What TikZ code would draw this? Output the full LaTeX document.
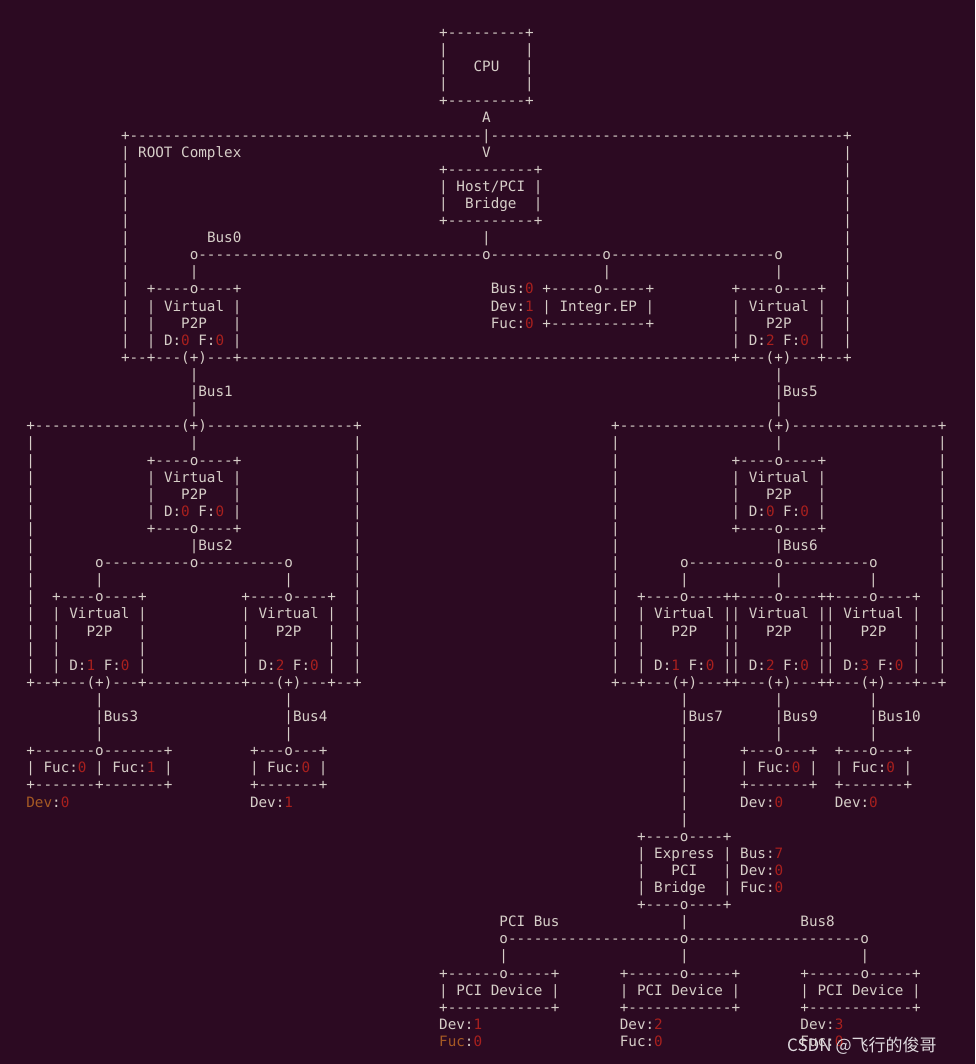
\documentclass[tikz,border=0pt]{standalone}
\usepackage{fontspec}
\setmonofont{DejaVu Sans Mono}[Ligatures=TeXOff]
\newfontfamily\cjkf{Noto Sans CJK SC}
\definecolor{bg}{HTML}{2C0A22}
\definecolor{fg}{HTML}{D6CEC8}
\definecolor{rd}{HTML}{A8201E}
\definecolor{og}{HTML}{A65A24}
\ExplSyntaxOn
\cs_new:Npn \Dsh #1 {\prg_replicate:nn {#1} {-}}
\ExplSyntaxOff
\newcommand\rd[1]{\textcolor{rd}{#1}}
\newcommand\Tx[3]{\pgfmathtruncatemacro\cc{#2}\node[txt] (n#1x\cc) at ({26.2pt+8.6pt*(#2)},{-37.5pt-17.1pt*(#1)}) {#3};}
\newcommand\Vb[2]{\Tx{#1}{#2}{|}}
\begin{document}
\begin{tikzpicture}[txt/.style={anchor=base west,inner sep=0pt,text=fg,font=\ttfamily\fontsize{14.28}{17}\selectfont}]
\fill[bg] (0,0) rectangle (975pt,-1064pt);
\useasboundingbox (0,0) rectangle (975pt,-1064pt);
% CPU
\Tx{0}{48}{+\Dsh{9}+}
\Vb{1}{48}\Vb{1}{58}
\Vb{2}{48}\Tx{2}{52}{CPU}\Vb{2}{58}
\Vb{3}{48}\Vb{3}{58}
\Tx{4}{48}{+\Dsh{9}+}
\Tx{5}{53}{A}
\Tx{6}{11}{+\Dsh{41}|\Dsh{41}+}
\Vb{7}{11}\Tx{7}{13}{ROOT Complex}\Tx{7}{53}{V}\Vb{7}{95}
\Vb{8}{11}\Tx{8}{48}{+\Dsh{10}+}\Vb{8}{95}
\Vb{9}{11}\Vb{9}{48}\Tx{9}{50}{Host/PCI}\Vb{9}{59}\Vb{9}{95}
\Vb{10}{11}\Vb{10}{48}\Tx{10}{51}{Bridge}\Vb{10}{59}\Vb{10}{95}
\Vb{11}{11}\Tx{11}{48}{+\Dsh{10}+}\Vb{11}{95}
\Vb{12}{11}\Tx{12}{21}{Bus0}\Vb{12}{53}\Vb{12}{95}
\Vb{13}{11}\Tx{13}{19}{o\Dsh{33}o\Dsh{13}o\Dsh{19}o}\Vb{13}{95}
\Vb{14}{11}\Vb{14}{19}\Vb{14}{67}\Vb{14}{87}\Vb{14}{95}
\Vb{15}{11}\Tx{15}{14}{+\Dsh{4}o\Dsh{4}+}\Tx{15}{54}{Bus:\rd{0}}\Tx{15}{60}{+\Dsh{5}o\Dsh{5}+}\Tx{15}{82}{+\Dsh{4}o\Dsh{4}+}\Vb{15}{95}
\Vb{16}{11}\Vb{16}{14}\Tx{16}{16}{Virtual}\Vb{16}{24}\Tx{16}{54}{Dev:\rd{1}}\Vb{16}{60}\Tx{16}{62}{Integr.EP}\Vb{16}{72}\Vb{16}{82}\Tx{16}{84}{Virtual}\Vb{16}{92}\Vb{16}{95}
\Vb{17}{11}\Vb{17}{14}\Tx{17}{18}{P2P}\Vb{17}{24}\Tx{17}{54}{Fuc:\rd{0}}\Tx{17}{60}{+\Dsh{11}+}\Vb{17}{82}\Tx{17}{86}{P2P}\Vb{17}{92}\Vb{17}{95}
\Vb{18}{11}\Vb{18}{14}\Tx{18}{16}{D:\rd{0} F:\rd{0}}\Vb{18}{24}\Vb{18}{82}\Tx{18}{84}{D:\rd{2} F:\rd{0}}\Vb{18}{92}\Vb{18}{95}
\Tx{19}{11}{+\Dsh{2}+\Dsh{3}(+)\Dsh{3}+\Dsh{57}+\Dsh{3}(+)\Dsh{3}+\Dsh{2}+}
\Vb{20}{19}\Vb{20}{87}
\Tx{21}{19}{|Bus1}\Tx{21}{87}{|Bus5}
\Vb{22}{19}\Vb{22}{87}
\Tx{23}{0}{+\Dsh{17}(+)\Dsh{17}+}\Tx{23}{68}{+\Dsh{17}(+)\Dsh{17}+}
% outer verticals
\foreach \r in {24,...,37}{\Vb{\r}{0}\Vb{\r}{38}\Vb{\r}{68}\Vb{\r}{106}}
\Vb{24}{19}\Vb{24}{87}
\Tx{25}{14}{+\Dsh{4}o\Dsh{4}+}\Tx{25}{82}{+\Dsh{4}o\Dsh{4}+}
\Vb{26}{14}\Tx{26}{16}{Virtual}\Vb{26}{24}\Vb{26}{82}\Tx{26}{84}{Virtual}\Vb{26}{92}
\Vb{27}{14}\Tx{27}{18}{P2P}\Vb{27}{24}\Vb{27}{82}\Tx{27}{86}{P2P}\Vb{27}{92}
\Vb{28}{14}\Tx{28}{16}{D:\rd{0} F:\rd{0}}\Vb{28}{24}\Vb{28}{82}\Tx{28}{84}{D:\rd{0} F:\rd{0}}\Vb{28}{92}
\Tx{29}{14}{+\Dsh{4}o\Dsh{4}+}\Tx{29}{82}{+\Dsh{4}o\Dsh{4}+}
\Tx{30}{19}{|Bus2}\Tx{30}{87}{|Bus6}
\Tx{31}{8}{o\Dsh{10}o\Dsh{10}o}\Tx{31}{76}{o\Dsh{10}o\Dsh{10}o}
\Vb{32}{8}\Vb{32}{30}\Vb{32}{76}\Vb{32}{87}\Vb{32}{98}
\Tx{33}{3}{+\Dsh{4}o\Dsh{4}+}\Tx{33}{25}{+\Dsh{4}o\Dsh{4}+}\Tx{33}{71}{+\Dsh{4}o\Dsh{4}++\Dsh{4}o\Dsh{4}++\Dsh{4}o\Dsh{4}+}
\foreach \a in {3,25}{\Vb{34}{\a}\Tx{34}{\a+2}{Virtual}\Vb{34}{\a+10}
  \Vb{35}{\a}\Tx{35}{\a+4}{P2P}\Vb{35}{\a+10}\Vb{36}{\a}\Vb{36}{\a+10}\Vb{37}{\a}\Vb{37}{\a+10}}
\Vb{34}{71}\Tx{34}{73}{Virtual}\Tx{34}{81}{||}\Tx{34}{84}{Virtual}\Tx{34}{92}{||}\Tx{34}{95}{Virtual}\Vb{34}{103}
\Vb{35}{71}\Tx{35}{75}{P2P}\Tx{35}{81}{||}\Tx{35}{86}{P2P}\Tx{35}{92}{||}\Tx{35}{97}{P2P}\Vb{35}{103}
\Vb{36}{71}\Tx{36}{81}{||}\Tx{36}{92}{||}\Vb{36}{103}
\Vb{37}{71}\Tx{37}{81}{||}\Tx{37}{92}{||}\Vb{37}{103}
\Tx{37}{5}{D:\rd{1} F:\rd{0}}\Tx{37}{27}{D:\rd{2} F:\rd{0}}
\Tx{37}{73}{D:\rd{1} F:\rd{0}}\Tx{37}{84}{D:\rd{2} F:\rd{0}}\Tx{37}{95}{D:\rd{3} F:\rd{0}}
\Tx{38}{0}{+\Dsh{2}+\Dsh{3}(+)\Dsh{3}+\Dsh{11}+\Dsh{3}(+)\Dsh{3}+\Dsh{2}+}
\Tx{38}{68}{+\Dsh{2}+\Dsh{3}(+)\Dsh{3}++\Dsh{3}(+)\Dsh{3}++\Dsh{3}(+)\Dsh{3}+\Dsh{2}+}
\Vb{39}{8}\Vb{39}{30}\Vb{39}{76}\Vb{39}{87}\Vb{39}{98}
\Tx{40}{8}{|Bus3}\Tx{40}{30}{|Bus4}\Tx{40}{76}{|Bus7}\Tx{40}{87}{|Bus9}\Tx{40}{98}{|Bus10}
\Vb{41}{8}\Vb{41}{30}\Vb{41}{76}\Vb{41}{87}\Vb{41}{98}
\Tx{42}{0}{+\Dsh{7}o\Dsh{7}+}\Tx{42}{26}{+\Dsh{3}o\Dsh{3}+}\Vb{42}{76}\Tx{42}{83}{+\Dsh{3}o\Dsh{3}+}\Tx{42}{94}{+\Dsh{3}o\Dsh{3}+}
\Vb{43}{0}\Tx{43}{2}{Fuc:\rd{0}}\Vb{43}{8}\Tx{43}{10}{Fuc:\rd{1}}\Vb{43}{16}
\Vb{43}{26}\Tx{43}{28}{Fuc:\rd{0}}\Vb{43}{34}\Vb{43}{76}
\Vb{43}{83}\Tx{43}{85}{Fuc:\rd{0}}\Vb{43}{91}\Vb{43}{94}\Tx{43}{96}{Fuc:\rd{0}}\Vb{43}{102}
\Tx{44}{0}{+\Dsh{7}+\Dsh{7}+}\Tx{44}{26}{+\Dsh{7}+}\Vb{44}{76}\Tx{44}{83}{+\Dsh{7}+}\Tx{44}{94}{+\Dsh{7}+}
\Tx{45}{0}{\textcolor{og}{Dev}:\rd{0}}\Tx{45}{26}{Dev:\rd{1}}\Vb{45}{76}\Tx{45}{83}{Dev:\rd{0}}\Tx{45}{94}{Dev:\rd{0}}
\Vb{46}{76}
\Tx{47}{71}{+\Dsh{4}o\Dsh{4}+}
\Vb{48}{71}\Tx{48}{73}{Express}\Vb{48}{81}\Tx{48}{83}{Bus:\rd{7}}
\Vb{49}{71}\Tx{49}{75}{PCI}\Vb{49}{81}\Tx{49}{83}{Dev:\rd{0}}
\Vb{50}{71}\Tx{50}{73}{Bridge}\Vb{50}{81}\Tx{50}{83}{Fuc:\rd{0}}
\Tx{51}{71}{+\Dsh{4}o\Dsh{4}+}
\Tx{52}{55}{PCI Bus}\Vb{52}{76}\Tx{52}{90}{Bus8}
\Tx{53}{55}{o\Dsh{20}o\Dsh{20}o}
\Vb{54}{55}\Vb{54}{76}\Vb{54}{97}
\foreach \a in {48,69,90}{\Tx{55}{\a}{+\Dsh{6}o\Dsh{5}+}\Vb{56}{\a}\Tx{56}{\a+2}{PCI Device}\Vb{56}{\a+13}\Tx{57}{\a}{+\Dsh{12}+}}
\Tx{58}{48}{Dev:\rd{1}}\Tx{58}{69}{Dev:\rd{2}}\Tx{58}{90}{Dev:\rd{3}}
\Tx{59}{48}{\textcolor{og}{Fuc}:\rd{0}}\Tx{59}{69}{Fuc:\rd{0}}\Tx{59}{90}{Fuc:\rd{0}}
\node[anchor=base west,inner sep=0pt,text=white!85!bg,font=\cjkf\fontsize{17}{20}\selectfont] (wm) at (787pt,-1051pt) {CSDN @飞行的俊哥};
\end{tikzpicture}
\end{document}
